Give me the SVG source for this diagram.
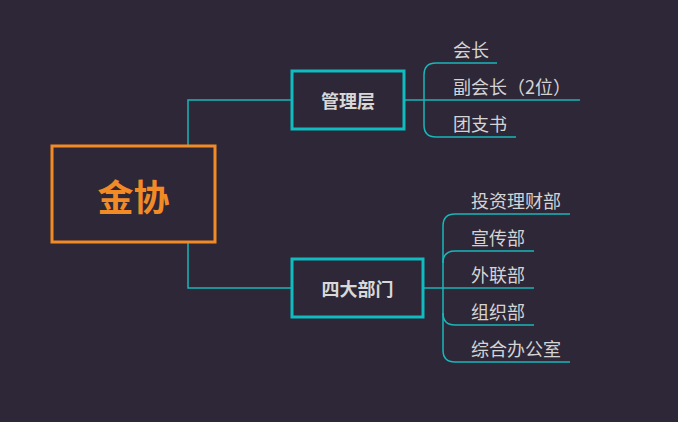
<svg xmlns="http://www.w3.org/2000/svg" width="678" height="422" viewBox="0 0 678 422">
<style>
.ln{fill:none;stroke:#17b7ba;stroke-width:1.5}
.box{fill:none;stroke:#0fbcc0;stroke-width:3}
.t{font-family:"Noto Sans CJK SC","Noto Sans",sans-serif;font-size:18px;fill:#d4d4d4}
.tb{font-family:"Noto Sans CJK SC","Noto Sans",sans-serif;font-size:18px;font-weight:bold;fill:#d8d8d8}
</style>
<rect width="678" height="422" fill="#2e2737"/>
<g id="connectors">
<path class="ln" d="M188,146 V100 H292"/>
<path class="ln" d="M188,242 V288 H292"/>
<path class="ln" d="M404,100 H580"/>
<path class="ln" d="M497,63 H436 Q424,63 424,75 V125 Q424,137 436,137 H516"/>
<path class="ln" d="M423,288 H534"/>
<path class="ln" d="M570,214 H455 Q443,214 443,226 V350 Q443,362 455,362 H570"/>
<path class="ln" d="M534,251 H455 Q443,251 443,263"/>
<path class="ln" d="M534,325 H455 Q443,325 443,313"/>
</g>
<g id="root">
<rect x="52" y="146" width="163" height="96" fill="none" stroke="#f28b26" stroke-width="3"/>
<text x="133.5" y="195" text-anchor="middle" dominant-baseline="central" font-family="'Noto Sans CJK SC','Noto Sans',sans-serif" font-size="36" font-weight="bold" fill="#f28b26">金协</text>
</g>
<g id="n-guanli">
<rect class="box" x="292" y="71" width="112" height="58"/>
<text class="tb" x="348" y="100" text-anchor="middle" dominant-baseline="central">管理层</text>
</g>
<g id="n-sida">
<rect class="box" x="292" y="259" width="131" height="58"/>
<text class="tb" x="357.5" y="288" text-anchor="middle" dominant-baseline="central">四大部门</text>
</g>
<g id="l-huizhang"><text class="t" x="453" y="57">会长</text></g>
<g id="l-fuhuizhang"><text class="t" x="453" y="94">副会长（2位）</text></g>
<g id="l-tuanzhishu"><text class="t" x="453" y="131">团支书</text></g>
<g id="l-touzi"><text class="t" x="471" y="208">投资理财部</text></g>
<g id="l-xuanchuan"><text class="t" x="471" y="245">宣传部</text></g>
<g id="l-wailian"><text class="t" x="471" y="282">外联部</text></g>
<g id="l-zuzhi"><text class="t" x="471" y="319">组织部</text></g>
<g id="l-zonghe"><text class="t" x="471" y="356">综合办公室</text></g>
</svg>
